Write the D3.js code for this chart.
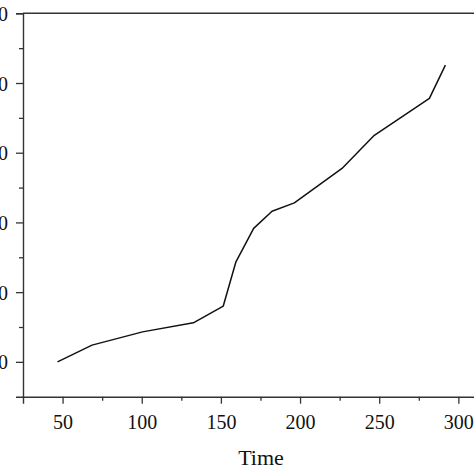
<!DOCTYPE html>
<html><head><meta charset="utf-8">
<script src="https://cdn.jsdelivr.net/npm/d3@7"></script>
<style>body{margin:0;background:#fff}svg{display:block}</style>
</head><body>
<script>
const timeValues = [46.8, 68.6, 100.5, 132.6, 151.5, 159.5, 170.7, 182.3, 196.4, 226.5, 246.9, 281.7, 291.8];
const seriesValues = [100, 124, 143, 156, 180, 243.5, 291.4, 316, 328, 377.5, 425, 478, 525.7];
const xTicks = [50, 100, 150, 200, 250, 300];
const xMinor = [75, 125, 175, 225, 275];
const yTicks = [100, 200, 300, 400, 500, 600];
const yMinor = [150, 250, 350, 450, 550];
const xTitle = "Time";

const W = 474, H = 474;
const svg = d3.select("body").append("svg").attr("width", W).attr("height", H);
const x = d3.scaleLinear().domain([25, 310]).range([23, 474.2]);
const y = d3.scaleLinear().domain([50, 600]).range([396.7, 13.3]);
const font = "'Liberation Serif', 'DejaVu Serif', serif";
const axisColor = "#333";

// minor ticks
const gxm = svg.append("g").attr("transform", "translate(0,396.7)")
  .call(d3.axisBottom(x).tickValues(xMinor).tickSize(4).tickFormat(""));
const gym = svg.append("g").attr("transform", "translate(23,0)")
  .call(d3.axisLeft(y).tickValues(yMinor).tickSize(4).tickFormat(""));
[gxm, gym].forEach(g => { g.select(".domain").remove(); g.selectAll("line").attr("stroke", axisColor).attr("stroke-width", 1.3); });

// major axes
const gx = svg.append("g").attr("transform", "translate(0,396.7)")
  .call(d3.axisBottom(x).tickValues(xTicks).tickSize(7).tickPadding(11).tickFormat(d3.format("d")));
const gy = svg.append("g").attr("transform", "translate(23,0)")
  .call(d3.axisLeft(y).tickValues(yTicks).tickSize(7).tickPadding(8).tickFormat(d3.format("d")));
[gx, gy].forEach(g => {
  g.select(".domain").attr("stroke", axisColor).attr("stroke-width", 1.4);
  g.selectAll("line").attr("stroke", axisColor).attr("stroke-width", 1.3);
  g.selectAll("text").attr("font-family", font).attr("font-size", 20).attr("fill", "#111");
});
gy.selectAll("text").attr("dy", "0.35em");

// top frame line
svg.append("line").attr("x1", x(25)).attr("x2", W).attr("y1", y(600)).attr("y2", y(600))
  .attr("stroke", axisColor).attr("stroke-width", 1.4);

// data line
const line = d3.line().x((d, i) => x(timeValues[i])).y(d => y(d));
svg.append("path").datum(seriesValues).attr("d", line)
  .attr("fill", "none").attr("stroke", "#111").attr("stroke-width", 1.5).attr("stroke-linejoin", "round");

// x title
svg.append("text").attr("x", 261).attr("y", 465).attr("text-anchor", "middle")
  .attr("font-family", font).attr("font-size", 22).attr("fill", "#111").text(xTitle);
</script>
</body></html>
